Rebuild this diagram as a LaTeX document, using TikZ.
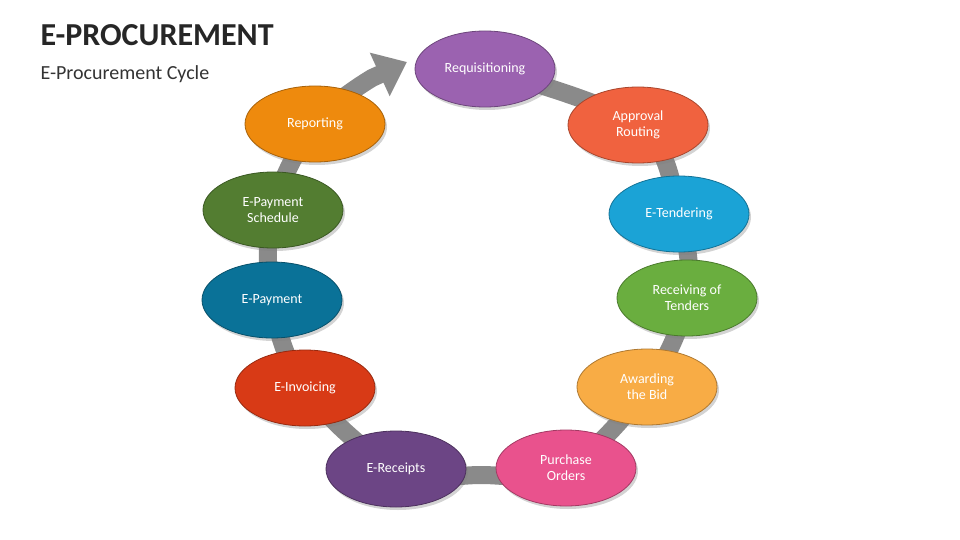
\documentclass[tikz,border=0pt]{standalone}
\usepackage{fontspec}
\setmainfont{Carlito}
\usetikzlibrary{arrows.meta,shadows}
\definecolor{cA}{HTML}{9B62B0}\definecolor{cB}{HTML}{F0623F}
\definecolor{cC}{HTML}{1BA3D6}\definecolor{cD}{HTML}{6AAE3F}
\definecolor{cE}{HTML}{F8AC45}\definecolor{cF}{HTML}{E9528D}
\definecolor{cG}{HTML}{6C4585}\definecolor{cH}{HTML}{D83A16}
\definecolor{cI}{HTML}{0A7298}\definecolor{cJ}{HTML}{537D31}
\definecolor{cK}{HTML}{EE8A0D}\definecolor{ring}{HTML}{8A8A8A}
\begin{document}
\begin{tikzpicture}[x=1pt,y=-1pt,
 stage/.style={ellipse,minimum width=140pt,minimum height=76pt,inner sep=0pt,
   draw=#1!70!black,line width=0.8pt,fill=#1,text=white,font=\fontsize{14}{16}\selectfont,
   align=center,drop shadow={opacity=0.35,shadow xshift=2pt,shadow yshift=-3pt}},
 ]
\useasboundingbox (0,0) rectangle (960,540);
\usetikzlibrary{shapes.geometric}
\node[anchor=west,font=\bfseries\fontsize{32}{36}\selectfont,text=black!85] (t) at (37,35) {E-PROCUREMENT};
\node[anchor=west,font=\fontsize{20}{24}\selectfont,text=black!80] (st) at (37,74) {E-Procurement Cycle};
\coordinate (end) at (407,62);
\draw[ring,line width=18pt,-{Triangle[length=30pt,width=46pt]}]
  plot[smooth,tension=0.6] coordinates {(485,69) (638,125) (679,214) (687,298) (647,387) (566,468) (480,475) (396,469) (305,388) (272,300) (273,210) (315,124) (372,78)} -- (end);
\node[stage=cA] (a) at (485,69) {Requisitioning};
\node[stage=cB] (b) at (638,125) {Approval\\Routing};
\node[stage=cC] (c) at (679,214) {E-Tendering};
\node[stage=cD] (d) at (687,298) {Receiving of\\Tenders};
\node[stage=cE] (e) at (647,387) {Awarding\\the Bid};
\node[stage=cF] (f) at (566,468) {Purchase\\Orders};
\node[stage=cG] (g) at (396,469) {E-Receipts};
\node[stage=cH] (h) at (305,388) {E-Invoicing};
\node[stage=cI] (i) at (272,300) {E-Payment};
\node[stage=cJ] (j) at (273,210) {E-Payment\\Schedule};
\node[stage=cK] (k) at (315,124) {Reporting};
\end{tikzpicture}
\end{document}
